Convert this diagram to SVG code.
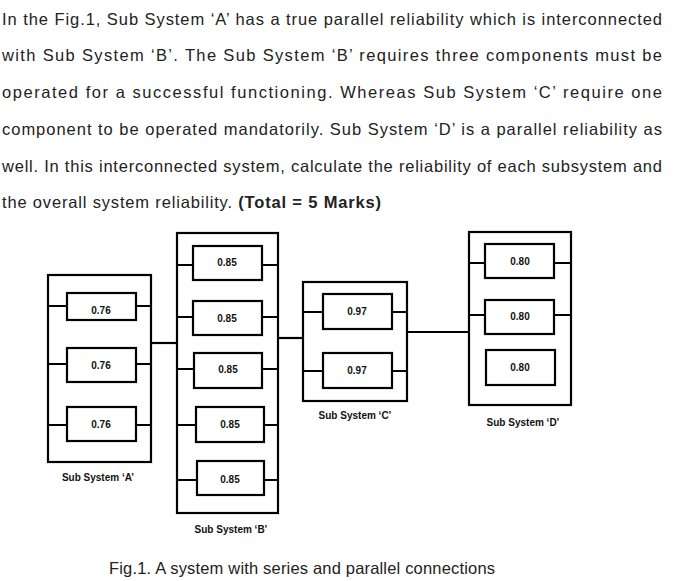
<svg xmlns="http://www.w3.org/2000/svg" width="688" height="581" viewBox="0 0 688 581">
<style>
.p{font-family:"Liberation Sans",Arial,sans-serif;font-size:16.5px;fill:#222}
.b{font-family:"Liberation Sans",Arial,sans-serif;font-size:10px;font-weight:bold;fill:#111;text-anchor:middle}
.f{fill:none;stroke:#000;stroke-width:2.2}
.w{fill:#fff;stroke:#000;stroke-width:2.2}
</style>
<rect width="688" height="581" fill="#fff"/>
<g id="text">
<text class="p" x="2" y="25" textLength="660" lengthAdjust="spacing">In the Fig.1, Sub System ‘A’ has a true parallel reliability which is interconnected</text>
<text class="p" x="2" y="61" textLength="660" lengthAdjust="spacing">with Sub System ‘B’. The Sub System ‘B’ requires three components must be</text>
<text class="p" x="2" y="98" textLength="660" lengthAdjust="spacing">operated for a successful functioning. Whereas Sub System ‘C’ require one</text>
<text class="p" x="2" y="135" textLength="660" lengthAdjust="spacing">component to be operated mandatorily. Sub System ‘D’ is a parallel reliability as</text>
<text class="p" x="2" y="172" textLength="660" lengthAdjust="spacing">well. In this interconnected system, calculate the reliability of each subsystem and</text>
<text class="p" x="2" y="208" textLength="379" lengthAdjust="spacing">the overall system reliability. <tspan font-weight="bold">(Total = 5 Marks)</tspan></text>
<text class="p" x="109" y="574" textLength="386" lengthAdjust="spacing">Fig.1. A system with series and parallel connections</text>
</g>
<g id="connectors" class="f">
<line x1="151" y1="343" x2="177" y2="343"/>
<line x1="278" y1="338" x2="303" y2="338"/>
<line x1="407" y1="332" x2="469" y2="332"/>
</g>
<g id="subA">
<rect class="f" x="48" y="275" width="103" height="187"/>
<path class="f" d="M48 306H67M136 306H151M48 364H67M136 364H151M48 425H67M136 425H151"/>
<rect class="w" x="67" y="293" width="69" height="27"/><text class="b" x="101" y="314">0.76</text>
<rect class="w" x="67" y="348" width="69" height="34"/><text class="b" x="101" y="369">0.76</text>
<rect class="w" x="67" y="407" width="69" height="34"/><text class="b" x="101" y="428">0.76</text>
<text class="b" x="98" y="481">Sub System ‘A’</text>
</g>
<g id="subB">
<rect class="f" x="177" y="233" width="101" height="280"/>
<path class="f" d="M177 265H193M262 265H278M177 317H193M262 317H278M177 369H194M262 369H278M177 425H196M264 425H278M177 480H197M264 480H278"/>
<rect class="w" x="193" y="246" width="69" height="34"/><text class="b" x="227" y="266">0.85</text>
<rect class="w" x="193" y="301" width="69" height="34"/><text class="b" x="227" y="322">0.85</text>
<rect class="w" x="194" y="353" width="68" height="35"/><text class="b" x="228" y="373">0.85</text>
<rect class="w" x="196" y="407" width="68" height="35"/><text class="b" x="230" y="428">0.85</text>
<rect class="w" x="197" y="461" width="67" height="34"/><text class="b" x="230" y="483">0.85</text>
<text class="b" x="231" y="533">Sub System ‘B’</text>
</g>
<g id="subC">
<rect class="f" x="303" y="282" width="104" height="119"/>
<path class="f" d="M303 312H323M392 312H407M303 371H323M392 371H407"/>
<rect class="w" x="323" y="294" width="69" height="35"/><text class="b" x="357" y="315">0.97</text>
<rect class="w" x="323" y="353" width="69" height="35"/><text class="b" x="357" y="374">0.97</text>
<text class="b" x="355" y="419">Sub System ‘C’</text>
</g>
<g id="subD">
<rect class="f" x="469" y="232" width="102" height="173"/>
<path class="f" d="M469 263H485M554 263H571M469 315H485M554 315H571"/>
<rect class="w" x="485" y="244" width="69" height="34"/><text class="b" x="520" y="265">0.80</text>
<rect class="w" x="485" y="300" width="69" height="34"/><text class="b" x="520" y="320">0.80</text>
<rect class="w" x="486" y="350" width="69" height="35"/><text class="b" x="520" y="371">0.80</text>
<text class="b" x="523" y="426">Sub System ‘D’</text>
</g>
</svg>
